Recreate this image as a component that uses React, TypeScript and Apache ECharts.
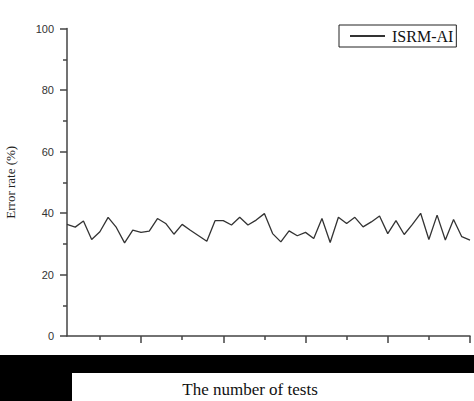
import React, { useEffect, useRef } from "react";
import * as echarts from "echarts";

const testNumbers: number[] = Array.from({ length: 50 }, (_, i) => i + 1);
const errorRates: number[] = [
  36.3, 35.4, 37.4, 31.4, 33.9, 38.6, 35.3, 30.3, 34.4, 33.7,
  34.1, 38.2, 36.6, 33.1, 36.3, 34.4, 32.6, 30.8, 37.5, 37.5,
  36.1, 38.6, 36.1, 37.7, 39.8, 33.3, 30.6, 34.2, 32.6, 33.7,
  31.7, 38.2, 30.4, 38.6, 36.6, 38.6, 35.5, 37.1, 39.0, 33.3,
  37.5, 33.0, 36.3, 39.9, 31.4, 39.3, 31.2, 37.9, 32.3, 31.2,
];
const majorXTicks: number[] = [10, 20, 30, 40, 50];
const minorXTicks: number[] = [5, 15, 25, 35, 45];
const seriesName = "ISRM-AI";
const xTitle = "The number of tests";
const yTitle = "Error rate (%)";

export default function App() {
  const ref = useRef<HTMLDivElement>(null);
  useEffect(() => {
    if (!ref.current) return;
    const chart = echarts.init(ref.current, undefined, { renderer: "svg" });
    const axisColor = "#444";
    chart.setOption({
      animation: false,
      backgroundColor: "#fff",
      textStyle: { fontFamily: "Liberation Sans" },
      grid: { left: 67, right: 4, top: 28.5, bottom: 65, containLabel: false, outerBoundsMode: "none" },
      legend: {
        show: true,
        left: 339,
        top: 25,
        orient: "horizontal",
        padding: [3, 3, 3, 11],
        borderColor: "#222",
        borderWidth: 1,
        itemWidth: 35,
        itemHeight: 2,
        itemGap: 0,
        icon: "rect",
        data: [{ name: seriesName, itemStyle: { color: "#333" } }],
        textStyle: { fontFamily: "Liberation Serif", fontSize: 16, color: "#111", padding: [0, 0, 0, 2] },
      },
      xAxis: [
        {
          type: "value",
          min: 1,
          max: 50,
          axisLine: { show: true, lineStyle: { color: axisColor, width: 1.5 } },
          axisTick: { show: true, inside: false, length: 7, customValues: majorXTicks, lineStyle: { color: axisColor, width: 1.5 } },
          axisLabel: { show: false },
          splitLine: { show: false },
        },
        {
          type: "value",
          min: 1,
          max: 50,
          position: "bottom",
          axisLine: { show: false },
          axisTick: { show: true, inside: false, length: 4, customValues: minorXTicks, lineStyle: { color: axisColor, width: 1.5 } },
          axisLabel: { show: false },
          splitLine: { show: false },
        },
      ],
      yAxis: {
        type: "value",
        min: 0,
        max: 100,
        interval: 20,
        name: yTitle,
        nameLocation: "middle",
        nameRotate: 90,
        nameGap: 50,
        nameTextStyle: { fontFamily: "Liberation Serif", fontSize: 13, color: "#222" },
        axisLine: { show: true, lineStyle: { color: axisColor, width: 1.5 } },
        axisTick: { show: true, inside: false, length: 7, lineStyle: { color: axisColor, width: 1.5 } },
        minorTick: { show: true, splitNumber: 2, length: 4, lineStyle: { color: axisColor, width: 1.5 } },
        axisLabel: { show: true, margin: 13, fontSize: 11, color: "#333", fontFamily: "Liberation Sans" },
        splitLine: { show: false },
        minorSplitLine: { show: false },
      },
      series: [
        {
          name: seriesName,
          type: "line",
          xAxisIndex: 0,
          symbol: "none",
          lineStyle: { color: "#333", width: 1.3 },
          itemStyle: { color: "#333" },
          data: testNumbers.map((x, i) => [x, errorRates[i]]),
        },
      ],
      graphic: [
        { type: "rect", z: 90, shape: { x: 0, y: 355, width: 474, height: 46 }, style: { fill: "#000" } },
        { type: "rect", z: 91, shape: { x: 72, y: 373, width: 402, height: 28 }, style: { fill: "#fff" } },
        {
          type: "text",
          z: 100,
          x: 250,
          y: 389,
          style: {
            text: xTitle,
            fontFamily: "Liberation Serif",
            fontSize: 17,
            fill: "#111",
            align: "center",
            verticalAlign: "middle",
          },
        },
      ],
    });
    return () => chart.dispose();
  }, []);
  return (
    <div
      ref={ref}
      style={{ position: "fixed", left: 0, top: 0, width: 474, height: 401, background: "#fff" }}
    />
  );
}
